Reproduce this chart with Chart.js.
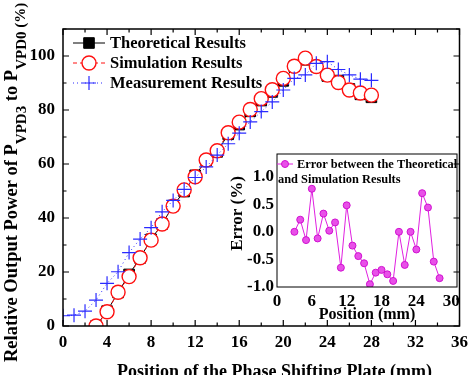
<!DOCTYPE html>
<html><head><meta charset="utf-8">
<script src="https://cdn.jsdelivr.net/npm/chart.js@4/dist/chart.umd.min.js"></script>
<style>
html,body{margin:0;padding:0;background:#fff;}
#wrap{position:relative;width:474px;height:375px;overflow:hidden;background:#fff;}
#main{position:absolute;left:0;top:0;}
#inset{position:absolute;left:220px;top:148px;}
</style></head><body>
<div id="wrap"><canvas id="main" width="474" height="375"></canvas><canvas id="inset" width="244" height="180"></canvas></div>
<script>
// ---- data ----
const positions = [3,4,5,6,7,8,9,10,11,12,13,14,15,16,17,18,19,20,21,22,23,24,25,26,27,28];
const theoretical = [0,5.5,12.4,19.1,25.2,32.1,37.8,44.6,49.8,55.8,61.3,64.5,71.0,74.6,79.5,83.5,86.7,90.8,96.2,98.6,96.1,92.6,90.9,87.8,85.8,84.7];
const simulation = [0,5.3,12.5,18.3,25.3,31.8,37.8,44.4,50.4,55.3,61.5,64.9,71.6,75.5,80.2,84.2,87.5,91.7,96.2,99.2,96.1,92.9,90.2,87.4,86.3,85.5];
const measPositions = [0,1,2,3,4,5,6,7,8,9,10,11,12,13,14,15,16,17,18,19,20,21,22,23,24,25,26,27,28];
const measurement = [3.8,4.0,5.5,9.6,15.8,20.1,27.2,32.2,36.4,42.3,46.5,50.6,55.0,58.9,63.3,67.5,71.4,75.6,79.4,83.0,87.4,91.7,93.0,97.3,97.9,95.0,93.0,91.4,91.0];
const errorValues = [0,0.22,-0.15,0.78,-0.12,0.33,0.02,0.17,-0.65,0.48,-0.25,-0.44,-0.57,-0.95,-0.74,-0.69,-0.77,-0.89,0.0,-0.6,0.0,-0.32,0.7,0.44,-0.54,-0.84];
const xTicksMain = [0,4,8,12,16,20,24,28,32,36];
const yTicksMain = [0,20,40,60,80,100];
const xTicksInset = [0,6,12,18,24,30];
const yTicksInset = [-1.0,-0.5,0.0,0.5,1.0];
const seriesNames = ['Theoretical Results','Simulation Results','Measurement Results'];
const errorName = ['Error between the Theoretical','and Simulation Results'];

const SERIF = '"Liberation Serif", "Times New Roman", serif';
const toXY = (xs, ys) => xs.map((x, i) => ({x, y: ys[i]}));

function drawMarker(ctx, style, x, y, r, stroke, fill, lw){
  ctx.save(); ctx.lineWidth = lw; ctx.strokeStyle = stroke; ctx.fillStyle = fill; ctx.setLineDash([]);
  ctx.beginPath();
  if (style === 'rect'){ const s = r*Math.SQRT1_2; ctx.rect(x-s,y-s,2*s,2*s); ctx.fill(); ctx.stroke(); }
  else if (style === 'circle'){ ctx.arc(x,y,r,0,Math.PI*2); ctx.fill(); ctx.stroke(); }
  else if (style === 'cross'){ ctx.moveTo(x-r,y); ctx.lineTo(x+r,y); ctx.moveTo(x,y-r); ctx.lineTo(x,y+r); ctx.stroke(); }
  ctx.restore();
}

const mainDecor = {
  id: 'mainDecor',
  afterDraw(chart){
    const {ctx, chartArea: a, scales: {x, y}} = chart;
    ctx.save();
    ctx.strokeStyle = '#000'; ctx.lineWidth = 1.5; ctx.setLineDash([]);
    ctx.strokeRect(a.left, a.top, a.right - a.left, a.bottom - a.top);
    ctx.lineWidth = 1.2;
    const tick = (px, isX, len) => {
      ctx.beginPath();
      if (isX){ ctx.moveTo(px, a.bottom); ctx.lineTo(px, a.bottom - len); ctx.moveTo(px, a.top); ctx.lineTo(px, a.top + len); }
      else { ctx.moveTo(a.left, px); ctx.lineTo(a.left + len, px); ctx.moveTo(a.right, px); ctx.lineTo(a.right - len, px); }
      ctx.stroke();
    };
    xTicksMain.forEach((v, i) => {
      tick(x.getPixelForValue(v), true, 6);
      if (i < xTicksMain.length - 1) tick(x.getPixelForValue((v + xTicksMain[i+1]) / 2), true, 3.5);
    });
    yTicksMain.forEach((v, i) => {
      tick(y.getPixelForValue(v), false, 6);
      const nx = i < yTicksMain.length - 1 ? yTicksMain[i+1] : v + (v - yTicksMain[i-1]);
      tick(y.getPixelForValue((v + nx) / 2), false, 3.5);
    });
    // legend
    const ds = chart.data.datasets;
    ctx.font = 'bold 16.5px ' + SERIF; ctx.textBaseline = 'middle'; ctx.fillStyle = '#000'; ctx.textAlign = 'left';
    const rows = [43, 63, 83];
    [0,1,2].forEach(i => {
      const d = ds[i]; const yy = rows[i];
      ctx.save(); ctx.strokeStyle = d.borderColor; ctx.lineWidth = d.borderWidth; ctx.setLineDash(d.borderDash || []);
      ctx.beginPath(); ctx.moveTo(73, yy); ctx.lineTo(105, yy); ctx.stroke(); ctx.restore();
      drawMarker(ctx, d.pointStyle, 89, yy, d.pointRadius, d.pointBorderColor, d.pointBackgroundColor, d.pointBorderWidth);
      ctx.fillStyle = '#000'; ctx.fillText(seriesNames[i], 110, yy + 1);
    });
    // y title with subscripts
    ctx.save();
    ctx.translate(17, 362); ctx.rotate(-Math.PI / 2);
    ctx.textBaseline = 'alphabetic'; ctx.textAlign = 'left'; ctx.fillStyle = '#000';
    const parts = [['Relative Output Power of P', 18.5, 0], ['VPD3', 15, 9], [' to P', 18.5, 0], ['VPD0', 15, 9], [' (%)', 15, 8]];
    let cx = 0;
    parts.forEach(([t, s, dy]) => { ctx.font = 'bold ' + s + 'px ' + SERIF; ctx.fillText(t, cx, dy); cx += ctx.measureText(t).width; });
    ctx.restore();
    // x title
    ctx.font = 'bold 18px ' + SERIF; ctx.textAlign = 'left'; ctx.textBaseline = 'alphabetic';
    ctx.fillText('Position of the Phase Shifting Plate (mm)', 117, 377);
    ctx.restore();
  }
};

const tickFont = {family: SERIF, weight: 'bold', size: 17};

new Chart(document.getElementById('main'), {
  type: 'scatter',
  data: {
    datasets: [
      {data: toXY(positions, theoretical), showLine: true, borderColor: '#000', borderWidth: 1,
       pointStyle: 'rect', pointRadius: 7.5, pointBorderColor: '#000', pointBackgroundColor: '#000', pointBorderWidth: 1, order: 3},
      {data: toXY(positions, simulation), showLine: true, borderColor: '#ff1010', borderWidth: 1, borderDash: [4,3],
       pointStyle: 'circle', pointRadius: 7, pointBorderColor: '#ff1010', pointBackgroundColor: '#fff', pointBorderWidth: 1.4, order: 2},
      {data: toXY(measPositions, measurement), showLine: true, borderColor: '#2a2aff', borderWidth: 1, borderDash: [1,3],
       pointStyle: 'cross', pointRadius: 7, pointBorderColor: '#2a2aff', pointBackgroundColor: '#2a2aff', pointBorderWidth: 1.2, order: 1}
    ]
  },
  options: {
    responsive: false, devicePixelRatio: 1, animation: false,
    layout: {padding: {left: 0, top: 29, right: 10, bottom: 0}},
    plugins: {legend: {display: false}, tooltip: {enabled: false}},
    scales: {
      x: {type: 'linear', min: 0, max: 36,
          afterBuildTicks: s => { s.ticks = xTicksMain.map(v => ({value: v})); },
          afterFit: s => { s.height = 49; },
          grid: {display: false, drawTicks: false}, border: {display: false},
          ticks: {font: tickFont, color: '#000', padding: 6, maxRotation: 0, autoSkip: false}},
      y: {type: 'linear', min: 0, max: 110,
          afterBuildTicks: s => { s.ticks = yTicksMain.map(v => ({value: v})); },
          afterFit: s => { s.width = 63; },
          grid: {display: false, drawTicks: false}, border: {display: false},
          ticks: {font: tickFont, color: '#000', padding: 8, autoSkip: false}}
    }
  },
  plugins: [mainDecor]
});

const insetDecor = {
  id: 'insetDecor',
  afterDraw(chart){
    const {ctx, chartArea: a} = chart;
    const d = chart.data.datasets[0];
    ctx.save();
    ctx.strokeStyle = '#000'; ctx.lineWidth = 1;
    ctx.strokeRect(a.left, a.top, a.right - a.left, a.bottom - a.top);
    // legend
    const ly = a.top + 10;
    ctx.strokeStyle = d.borderColor; ctx.lineWidth = 1; ctx.beginPath(); ctx.moveTo(a.left, ly); ctx.lineTo(a.left + 16, ly); ctx.stroke();
    drawMarker(ctx, 'circle', a.left + 8, ly, d.pointRadius, d.pointBorderColor, d.pointBackgroundColor, 1);
    ctx.fillStyle = '#000'; ctx.font = 'bold 12.4px ' + SERIF; ctx.textBaseline = 'middle'; ctx.textAlign = 'left';
    ctx.fillText(errorName[0], a.left + 20, ly + 1);
    ctx.fillText(errorName[1], a.left + 1, ly + 16);
    // titles
    ctx.font = 'bold 16px ' + SERIF; ctx.textAlign = 'center';
    ctx.fillText('Position (mm)', (a.left + a.right) / 2, a.bottom + 28);
    ctx.save(); ctx.translate(a.left - 39, (a.top + a.bottom) / 2 - 7); ctx.rotate(-Math.PI / 2);
    ctx.font = 'bold 17px ' + SERIF; ctx.fillText('Error (%)', 0, 0); ctx.restore();
    ctx.restore();
  }
};

new Chart(document.getElementById('inset'), {
  type: 'scatter',
  data: {
    datasets: [{data: toXY(positions, errorValues), showLine: true, borderColor: '#e020e0', borderWidth: 1,
      pointStyle: 'circle', pointRadius: 3.5, pointBorderColor: '#d010d0', pointBackgroundColor: '#e850e8', pointBorderWidth: 1}]
  },
  options: {
    responsive: false, devicePixelRatio: 1, animation: false,
    layout: {padding: {left: 0, top: 6, right: 7, bottom: 0}},
    plugins: {legend: {display: false}, tooltip: {enabled: false}},
    scales: {
      x: {type: 'linear', min: 0, max: 31,
          afterBuildTicks: s => { s.ticks = xTicksInset.map(v => ({value: v})); },
          afterFit: s => { s.height = 41; s.paddingLeft = 0; s.paddingRight = 0; },
          grid: {display: false, drawTicks: false}, border: {display: false},
          ticks: {font: tickFont, color: '#000', padding: 4, maxRotation: 0, autoSkip: false}},
      y: {type: 'linear', min: -1.0, max: 1.41,
          afterBuildTicks: s => { s.ticks = yTicksInset.map(v => ({value: v})); },
          afterFit: s => { s.width = 57; s.paddingTop = 0; s.paddingBottom = 0; },
          grid: {display: false, drawTicks: false}, border: {display: false},
          ticks: {font: tickFont, color: '#000', padding: 3, autoSkip: false, callback: v => v.toFixed(1)}}
    }
  },
  plugins: [insetDecor]
});
</script>
</body></html>
